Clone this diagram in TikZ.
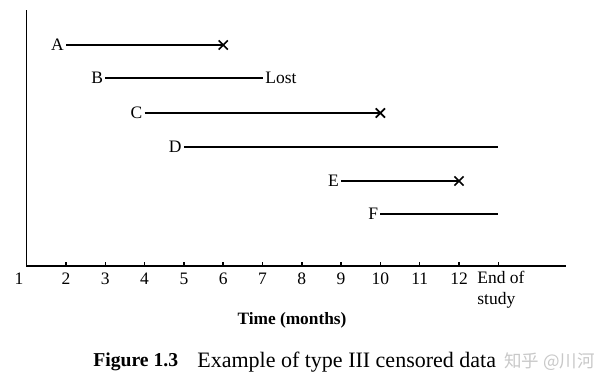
\documentclass[tikz,border=0pt]{standalone}
\usepackage{fontspec}
\setmainfont{Liberation Serif}
\newfontfamily\cjkfont{Noto Sans CJK SC}
\usetikzlibrary{shapes.misc, positioning}
\definecolor{wmgray}{RGB}{200,200,200}

\begin{document}
\begin{tikzpicture}[x=0.6pt,y=-0.6pt,
  font=\fontsize{10.5}{12}\selectfont,
  axis/.style={line width=0.9pt},
  span/.style={line width=1.1pt},
  lbl/.style={inner sep=1.2pt,anchor=east},
  xmark/.style={cross out,draw,line width=1pt,minimum size=4.5pt,inner sep=0pt},
  ticklbl/.style={inner sep=0pt,anchor=center}
]
  \useasboundingbox (0,0) rectangle (600,390);

  % axes
  \coordinate (orig) at (26.7,266);
  \coordinate (ytop) at (26.7,10);
  \coordinate (xend) at (566,266);
  \draw[axis] (ytop) -- (orig) -- (xend);
  \foreach \m in {2,...,13}
    \draw[axis] ({26.7+39.3*(\m-1)},266) -- ++(0,-4);
  \node[ticklbl] (t1) at (19,279) {1};
  \foreach \m in {2,...,12}
    \node[ticklbl] (t\m) at ({26.7+39.3*(\m-1)},279) {\m};
  \node[anchor=north west,align=left,inner sep=0pt,font=\fontsize{10.5}{12.5}\selectfont]
    (tend) at (477,271) {End of\\study};
  \node[font=\bfseries\fontsize{10.4}{12}\selectfont] (xlab) at (292,320) {Time (months)};

  % subjects
  \node[lbl] (A) at (66,45) {A};
  \node[xmark] (Ax) at (223.2,45) {};
  \node[lbl] (B) at (105.3,78) {B};
  \node[anchor=west,inner sep=1.5pt] (Bl) at (262.5,78) {Lost};
  \node[lbl] (C) at (144.6,113) {C};
  \node[xmark] (Cx) at (380.4,113) {};
  \node[lbl] (D) at (183.9,147) {D};
  \coordinate (Dx) at (498.3,147);
  \node[lbl] (E) at (341.1,181) {E};
  \node[xmark] (Ex) at (459,181) {};
  \node[lbl] (F) at (380.4,214) {F};
  \coordinate (Fx) at (498.3,214);

  \draw[span] (A.east) -- (Ax.center);
  \draw[span] (B.east) -- (Bl.west);
  \draw[span] (C.east) -- (Cx.center);
  \draw[span] (D.east) -- (Dx);
  \draw[span] (E.east) -- (Ex.center);
  \draw[span] (F.east) -- (Fx);

  % caption
  \node[anchor=west,inner sep=0pt,font=\bfseries\fontsize{11.8}{14}\selectfont] (fig) at (93,362) {Figure 1.3};
  \node[anchor=west,inner sep=0pt,font=\fontsize{13.2}{15}\selectfont] (cap) at (197,362) {Example of type III censored data};
  \node[anchor=west,inner sep=0pt,text=wmgray,font=\cjkfont\fontsize{10.5}{12}\selectfont] (wm) at (504,362) {知乎 @川河};
\end{tikzpicture}
\end{document}
